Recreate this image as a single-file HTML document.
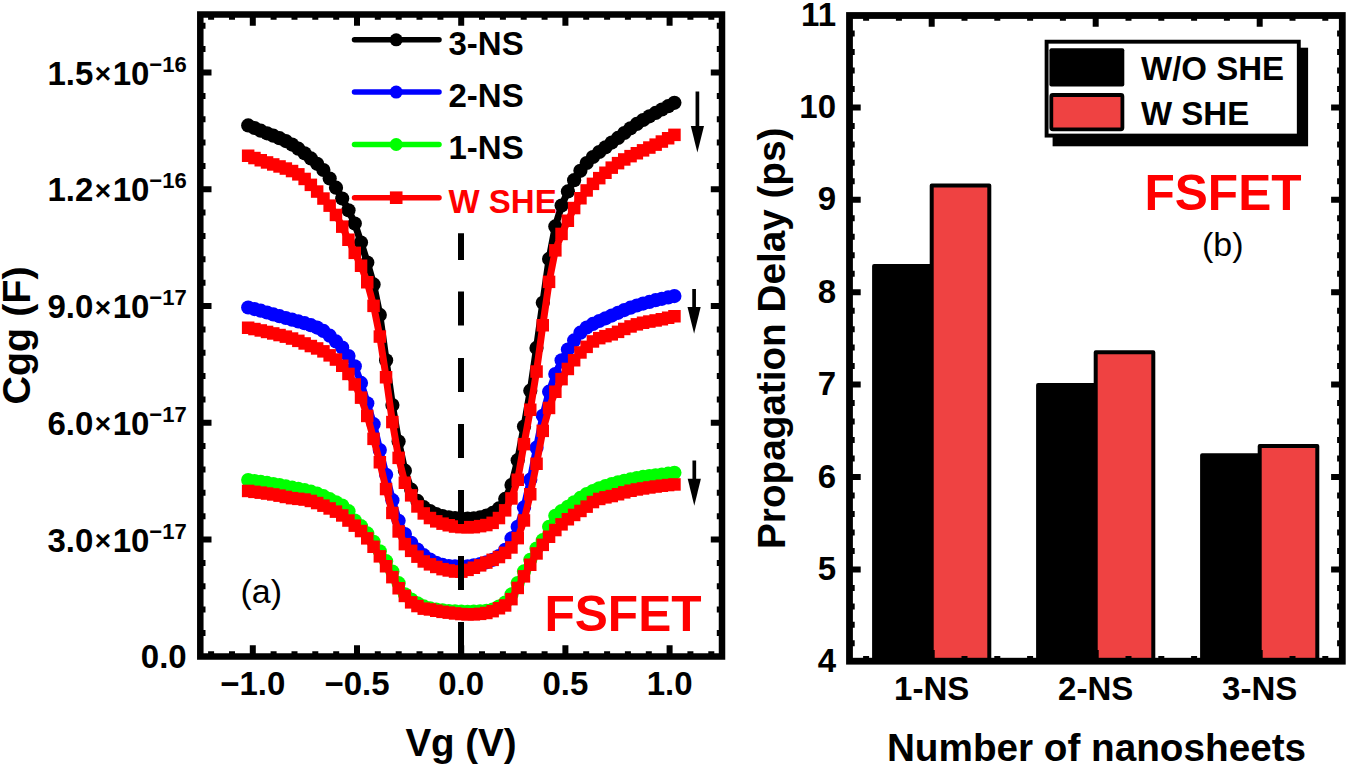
<!DOCTYPE html><html><head><meta charset="utf-8"><style>html,body{margin:0;padding:0;background:#fff;overflow:hidden}svg{display:block;font-family:"Liberation Sans",sans-serif}</style></head><body>
<svg width="1347" height="765" viewBox="0 0 1347 765">
<rect x="0" y="0" width="1347" height="765" fill="#fff"/>
<g>
<polyline points="248.2,125.4 254.5,128.0 260.7,130.7 267.0,133.3 273.3,135.7 279.5,138.2 285.8,141.1 292.1,144.6 298.3,148.7 304.6,153.3 310.9,158.4 317.1,163.8 323.4,170.0 329.7,178.5 336.0,187.7 342.2,198.5 348.5,210.3 354.8,223.6 361.0,242.5 367.3,262.5 373.6,284.4 379.8,314.9 386.1,360.3 392.4,405.0 398.6,441.6 404.9,470.7 411.2,489.7 417.4,500.9 423.7,507.2 430.0,511.1 436.2,514.0 442.5,516.0 448.8,517.3 455.0,518.2 461.3,518.6 467.6,518.7 473.8,518.4 480.1,517.4 486.4,515.6 492.7,512.9 498.9,508.4 505.2,498.9 511.5,485.0 517.7,460.2 524.0,426.5 530.3,390.7 536.5,347.9 542.8,302.8 549.1,258.9 555.3,226.4 561.6,205.6 567.9,191.4 574.1,180.2 580.4,170.8 586.7,163.0 592.9,157.0 599.2,152.0 605.5,147.3 611.7,142.6 618.0,137.9 624.3,133.0 630.5,128.3 636.8,123.9 643.1,120.0 649.4,116.3 655.6,112.9 661.9,109.5 668.2,106.2 674.4,102.8" fill="none" stroke="#000" stroke-width="7"/><g fill="#000"><circle cx="248.2" cy="125.4" r="7.1"/><circle cx="254.5" cy="128.0" r="7.1"/><circle cx="260.7" cy="130.7" r="7.1"/><circle cx="267.0" cy="133.3" r="7.1"/><circle cx="273.3" cy="135.7" r="7.1"/><circle cx="279.5" cy="138.2" r="7.1"/><circle cx="285.8" cy="141.1" r="7.1"/><circle cx="292.1" cy="144.6" r="7.1"/><circle cx="298.3" cy="148.7" r="7.1"/><circle cx="304.6" cy="153.3" r="7.1"/><circle cx="310.9" cy="158.4" r="7.1"/><circle cx="317.1" cy="163.8" r="7.1"/><circle cx="323.4" cy="170.0" r="7.1"/><circle cx="329.7" cy="178.5" r="7.1"/><circle cx="336.0" cy="187.7" r="7.1"/><circle cx="342.2" cy="198.5" r="7.1"/><circle cx="348.5" cy="210.3" r="7.1"/><circle cx="354.8" cy="223.6" r="7.1"/><circle cx="361.0" cy="242.5" r="7.1"/><circle cx="367.3" cy="262.5" r="7.1"/><circle cx="373.6" cy="284.4" r="7.1"/><circle cx="379.8" cy="314.9" r="7.1"/><circle cx="386.1" cy="360.3" r="7.1"/><circle cx="392.4" cy="405.0" r="7.1"/><circle cx="398.6" cy="441.6" r="7.1"/><circle cx="404.9" cy="470.7" r="7.1"/><circle cx="411.2" cy="489.7" r="7.1"/><circle cx="417.4" cy="500.9" r="7.1"/><circle cx="423.7" cy="507.2" r="7.1"/><circle cx="430.0" cy="511.1" r="7.1"/><circle cx="436.2" cy="514.0" r="7.1"/><circle cx="442.5" cy="516.0" r="7.1"/><circle cx="448.8" cy="517.3" r="7.1"/><circle cx="455.0" cy="518.2" r="7.1"/><circle cx="461.3" cy="518.6" r="7.1"/><circle cx="467.6" cy="518.7" r="7.1"/><circle cx="473.8" cy="518.4" r="7.1"/><circle cx="480.1" cy="517.4" r="7.1"/><circle cx="486.4" cy="515.6" r="7.1"/><circle cx="492.7" cy="512.9" r="7.1"/><circle cx="498.9" cy="508.4" r="7.1"/><circle cx="505.2" cy="498.9" r="7.1"/><circle cx="511.5" cy="485.0" r="7.1"/><circle cx="517.7" cy="460.2" r="7.1"/><circle cx="524.0" cy="426.5" r="7.1"/><circle cx="530.3" cy="390.7" r="7.1"/><circle cx="536.5" cy="347.9" r="7.1"/><circle cx="542.8" cy="302.8" r="7.1"/><circle cx="549.1" cy="258.9" r="7.1"/><circle cx="555.3" cy="226.4" r="7.1"/><circle cx="561.6" cy="205.6" r="7.1"/><circle cx="567.9" cy="191.4" r="7.1"/><circle cx="574.1" cy="180.2" r="7.1"/><circle cx="580.4" cy="170.8" r="7.1"/><circle cx="586.7" cy="163.0" r="7.1"/><circle cx="592.9" cy="157.0" r="7.1"/><circle cx="599.2" cy="152.0" r="7.1"/><circle cx="605.5" cy="147.3" r="7.1"/><circle cx="611.7" cy="142.6" r="7.1"/><circle cx="618.0" cy="137.9" r="7.1"/><circle cx="624.3" cy="133.0" r="7.1"/><circle cx="630.5" cy="128.3" r="7.1"/><circle cx="636.8" cy="123.9" r="7.1"/><circle cx="643.1" cy="120.0" r="7.1"/><circle cx="649.4" cy="116.3" r="7.1"/><circle cx="655.6" cy="112.9" r="7.1"/><circle cx="661.9" cy="109.5" r="7.1"/><circle cx="668.2" cy="106.2" r="7.1"/><circle cx="674.4" cy="102.8" r="7.1"/></g>
<polyline points="248.2,307.5 254.5,309.1 260.7,310.7 267.0,312.5 273.3,314.4 279.5,316.2 285.8,318.0 292.1,319.7 298.3,321.4 304.6,323.2 310.9,325.2 317.1,327.6 323.4,330.9 329.7,335.7 336.0,341.4 342.2,347.6 348.5,356.0 354.8,366.3 361.0,382.9 367.3,403.3 373.6,424.2 379.8,450.1 386.1,474.8 392.4,500.2 398.6,520.8 404.9,534.1 411.2,542.8 417.4,549.6 423.7,555.2 430.0,559.5 436.2,562.8 442.5,564.9 448.8,566.0 455.0,566.4 461.3,566.8 467.6,566.3 473.8,565.3 480.1,564.1 486.4,562.3 492.7,559.8 498.9,556.1 505.2,549.8 511.5,538.4 517.7,526.8 524.0,507.4 530.3,479.7 536.5,447.7 542.8,415.8 549.1,391.7 555.3,374.0 561.6,360.3 567.9,349.6 574.1,340.4 580.4,332.7 586.7,327.5 592.9,323.9 599.2,321.0 605.5,318.3 611.7,315.6 618.0,312.8 624.3,310.1 630.5,307.7 636.8,305.5 643.1,303.6 649.4,301.9 655.6,300.2 661.9,298.8 668.2,297.4 674.4,296.1" fill="none" stroke="#0000ff" stroke-width="7"/><g fill="#0000ff"><circle cx="248.2" cy="307.5" r="7.1"/><circle cx="254.5" cy="309.1" r="7.1"/><circle cx="260.7" cy="310.7" r="7.1"/><circle cx="267.0" cy="312.5" r="7.1"/><circle cx="273.3" cy="314.4" r="7.1"/><circle cx="279.5" cy="316.2" r="7.1"/><circle cx="285.8" cy="318.0" r="7.1"/><circle cx="292.1" cy="319.7" r="7.1"/><circle cx="298.3" cy="321.4" r="7.1"/><circle cx="304.6" cy="323.2" r="7.1"/><circle cx="310.9" cy="325.2" r="7.1"/><circle cx="317.1" cy="327.6" r="7.1"/><circle cx="323.4" cy="330.9" r="7.1"/><circle cx="329.7" cy="335.7" r="7.1"/><circle cx="336.0" cy="341.4" r="7.1"/><circle cx="342.2" cy="347.6" r="7.1"/><circle cx="348.5" cy="356.0" r="7.1"/><circle cx="354.8" cy="366.3" r="7.1"/><circle cx="361.0" cy="382.9" r="7.1"/><circle cx="367.3" cy="403.3" r="7.1"/><circle cx="373.6" cy="424.2" r="7.1"/><circle cx="379.8" cy="450.1" r="7.1"/><circle cx="386.1" cy="474.8" r="7.1"/><circle cx="392.4" cy="500.2" r="7.1"/><circle cx="398.6" cy="520.8" r="7.1"/><circle cx="404.9" cy="534.1" r="7.1"/><circle cx="411.2" cy="542.8" r="7.1"/><circle cx="417.4" cy="549.6" r="7.1"/><circle cx="423.7" cy="555.2" r="7.1"/><circle cx="430.0" cy="559.5" r="7.1"/><circle cx="436.2" cy="562.8" r="7.1"/><circle cx="442.5" cy="564.9" r="7.1"/><circle cx="448.8" cy="566.0" r="7.1"/><circle cx="455.0" cy="566.4" r="7.1"/><circle cx="461.3" cy="566.8" r="7.1"/><circle cx="467.6" cy="566.3" r="7.1"/><circle cx="473.8" cy="565.3" r="7.1"/><circle cx="480.1" cy="564.1" r="7.1"/><circle cx="486.4" cy="562.3" r="7.1"/><circle cx="492.7" cy="559.8" r="7.1"/><circle cx="498.9" cy="556.1" r="7.1"/><circle cx="505.2" cy="549.8" r="7.1"/><circle cx="511.5" cy="538.4" r="7.1"/><circle cx="517.7" cy="526.8" r="7.1"/><circle cx="524.0" cy="507.4" r="7.1"/><circle cx="530.3" cy="479.7" r="7.1"/><circle cx="536.5" cy="447.7" r="7.1"/><circle cx="542.8" cy="415.8" r="7.1"/><circle cx="549.1" cy="391.7" r="7.1"/><circle cx="555.3" cy="374.0" r="7.1"/><circle cx="561.6" cy="360.3" r="7.1"/><circle cx="567.9" cy="349.6" r="7.1"/><circle cx="574.1" cy="340.4" r="7.1"/><circle cx="580.4" cy="332.7" r="7.1"/><circle cx="586.7" cy="327.5" r="7.1"/><circle cx="592.9" cy="323.9" r="7.1"/><circle cx="599.2" cy="321.0" r="7.1"/><circle cx="605.5" cy="318.3" r="7.1"/><circle cx="611.7" cy="315.6" r="7.1"/><circle cx="618.0" cy="312.8" r="7.1"/><circle cx="624.3" cy="310.1" r="7.1"/><circle cx="630.5" cy="307.7" r="7.1"/><circle cx="636.8" cy="305.5" r="7.1"/><circle cx="643.1" cy="303.6" r="7.1"/><circle cx="649.4" cy="301.9" r="7.1"/><circle cx="655.6" cy="300.2" r="7.1"/><circle cx="661.9" cy="298.8" r="7.1"/><circle cx="668.2" cy="297.4" r="7.1"/><circle cx="674.4" cy="296.1" r="7.1"/></g>
<polyline points="248.2,480.0 254.5,481.0 260.7,481.9 267.0,482.9 273.3,484.0 279.5,485.1 285.8,486.4 292.1,487.7 298.3,488.9 304.6,490.2 310.9,491.7 317.1,493.7 323.4,496.2 329.7,499.2 336.0,502.3 342.2,505.5 348.5,511.2 354.8,520.5 361.0,526.2 367.3,533.4 373.6,541.8 379.8,551.3 386.1,561.2 392.4,571.6 398.6,583.2 404.9,594.3 411.2,599.6 417.4,603.3 423.7,606.4 430.0,608.3 436.2,609.5 442.5,610.3 448.8,611.0 455.0,611.4 461.3,611.7 467.6,611.8 473.8,611.7 480.1,611.4 486.4,610.8 492.7,609.5 498.9,606.6 505.2,602.5 511.5,594.4 517.7,583.0 524.0,571.4 530.3,559.8 536.5,548.6 542.8,540.2 549.1,526.8 555.3,515.8 561.6,511.0 567.9,506.8 574.1,502.3 580.4,497.9 586.7,494.1 592.9,491.0 599.2,488.3 605.5,486.0 611.7,484.0 618.0,482.3 624.3,480.8 630.5,479.4 636.8,478.1 643.1,476.9 649.4,476.1 655.6,475.3 661.9,474.5 668.2,473.7 674.4,472.8" fill="none" stroke="#00ff00" stroke-width="7"/><g fill="#00ff00"><circle cx="248.2" cy="480.0" r="7.1"/><circle cx="254.5" cy="481.0" r="7.1"/><circle cx="260.7" cy="481.9" r="7.1"/><circle cx="267.0" cy="482.9" r="7.1"/><circle cx="273.3" cy="484.0" r="7.1"/><circle cx="279.5" cy="485.1" r="7.1"/><circle cx="285.8" cy="486.4" r="7.1"/><circle cx="292.1" cy="487.7" r="7.1"/><circle cx="298.3" cy="488.9" r="7.1"/><circle cx="304.6" cy="490.2" r="7.1"/><circle cx="310.9" cy="491.7" r="7.1"/><circle cx="317.1" cy="493.7" r="7.1"/><circle cx="323.4" cy="496.2" r="7.1"/><circle cx="329.7" cy="499.2" r="7.1"/><circle cx="336.0" cy="502.3" r="7.1"/><circle cx="342.2" cy="505.5" r="7.1"/><circle cx="348.5" cy="511.2" r="7.1"/><circle cx="354.8" cy="520.5" r="7.1"/><circle cx="361.0" cy="526.2" r="7.1"/><circle cx="367.3" cy="533.4" r="7.1"/><circle cx="373.6" cy="541.8" r="7.1"/><circle cx="379.8" cy="551.3" r="7.1"/><circle cx="386.1" cy="561.2" r="7.1"/><circle cx="392.4" cy="571.6" r="7.1"/><circle cx="398.6" cy="583.2" r="7.1"/><circle cx="404.9" cy="594.3" r="7.1"/><circle cx="411.2" cy="599.6" r="7.1"/><circle cx="417.4" cy="603.3" r="7.1"/><circle cx="423.7" cy="606.4" r="7.1"/><circle cx="430.0" cy="608.3" r="7.1"/><circle cx="436.2" cy="609.5" r="7.1"/><circle cx="442.5" cy="610.3" r="7.1"/><circle cx="448.8" cy="611.0" r="7.1"/><circle cx="455.0" cy="611.4" r="7.1"/><circle cx="461.3" cy="611.7" r="7.1"/><circle cx="467.6" cy="611.8" r="7.1"/><circle cx="473.8" cy="611.7" r="7.1"/><circle cx="480.1" cy="611.4" r="7.1"/><circle cx="486.4" cy="610.8" r="7.1"/><circle cx="492.7" cy="609.5" r="7.1"/><circle cx="498.9" cy="606.6" r="7.1"/><circle cx="505.2" cy="602.5" r="7.1"/><circle cx="511.5" cy="594.4" r="7.1"/><circle cx="517.7" cy="583.0" r="7.1"/><circle cx="524.0" cy="571.4" r="7.1"/><circle cx="530.3" cy="559.8" r="7.1"/><circle cx="536.5" cy="548.6" r="7.1"/><circle cx="542.8" cy="540.2" r="7.1"/><circle cx="549.1" cy="526.8" r="7.1"/><circle cx="555.3" cy="515.8" r="7.1"/><circle cx="561.6" cy="511.0" r="7.1"/><circle cx="567.9" cy="506.8" r="7.1"/><circle cx="574.1" cy="502.3" r="7.1"/><circle cx="580.4" cy="497.9" r="7.1"/><circle cx="586.7" cy="494.1" r="7.1"/><circle cx="592.9" cy="491.0" r="7.1"/><circle cx="599.2" cy="488.3" r="7.1"/><circle cx="605.5" cy="486.0" r="7.1"/><circle cx="611.7" cy="484.0" r="7.1"/><circle cx="618.0" cy="482.3" r="7.1"/><circle cx="624.3" cy="480.8" r="7.1"/><circle cx="630.5" cy="479.4" r="7.1"/><circle cx="636.8" cy="478.1" r="7.1"/><circle cx="643.1" cy="476.9" r="7.1"/><circle cx="649.4" cy="476.1" r="7.1"/><circle cx="655.6" cy="475.3" r="7.1"/><circle cx="661.9" cy="474.5" r="7.1"/><circle cx="668.2" cy="473.7" r="7.1"/><circle cx="674.4" cy="472.8" r="7.1"/></g>
<polyline points="248.2,155.8 254.5,158.0 260.7,160.3 267.0,162.5 273.3,164.5 279.5,166.5 285.8,168.6 292.1,171.0 298.3,174.3 304.6,178.9 310.9,184.9 317.1,191.6 323.4,198.5 329.7,205.6 336.0,214.9 342.2,226.7 348.5,239.8 354.8,252.8 361.0,265.7 367.3,282.3 373.6,305.8 379.8,336.5 386.1,377.3 392.4,422.1 398.6,457.8 404.9,482.8 411.2,495.4 417.4,506.5 423.7,513.5 430.0,518.0 436.2,521.4 442.5,523.7 448.8,525.3 455.0,526.6 461.3,527.1 467.6,527.3 473.8,527.2 480.1,526.1 486.4,525.1 492.7,522.8 498.9,518.0 505.2,510.4 511.5,498.5 517.7,479.7 524.0,444.2 530.3,409.8 536.5,371.5 542.8,325.2 549.1,281.9 555.3,250.4 561.6,234.0 567.9,220.7 574.1,208.0 580.4,198.2 586.7,190.4 592.9,183.9 599.2,178.2 605.5,172.7 611.7,167.6 618.0,163.2 624.3,159.4 630.5,156.2 636.8,153.2 643.1,150.4 649.4,147.5 655.6,144.6 661.9,141.5 668.2,138.3 674.4,134.9" fill="none" stroke="#ff0000" stroke-width="7"/><g fill="#ff0000"><rect x="241.9" y="149.5" width="12.5" height="12.5"/><rect x="248.2" y="151.8" width="12.5" height="12.5"/><rect x="254.5" y="154.0" width="12.5" height="12.5"/><rect x="260.8" y="156.2" width="12.5" height="12.5"/><rect x="267.0" y="158.2" width="12.5" height="12.5"/><rect x="273.3" y="160.2" width="12.5" height="12.5"/><rect x="279.6" y="162.3" width="12.5" height="12.5"/><rect x="285.8" y="164.8" width="12.5" height="12.5"/><rect x="292.1" y="168.1" width="12.5" height="12.5"/><rect x="298.4" y="172.7" width="12.5" height="12.5"/><rect x="304.6" y="178.6" width="12.5" height="12.5"/><rect x="310.9" y="185.3" width="12.5" height="12.5"/><rect x="317.2" y="192.3" width="12.5" height="12.5"/><rect x="323.4" y="199.4" width="12.5" height="12.5"/><rect x="329.7" y="208.7" width="12.5" height="12.5"/><rect x="336.0" y="220.4" width="12.5" height="12.5"/><rect x="342.2" y="233.5" width="12.5" height="12.5"/><rect x="348.5" y="246.6" width="12.5" height="12.5"/><rect x="354.8" y="259.5" width="12.5" height="12.5"/><rect x="361.0" y="276.0" width="12.5" height="12.5"/><rect x="367.3" y="299.6" width="12.5" height="12.5"/><rect x="373.6" y="330.3" width="12.5" height="12.5"/><rect x="379.8" y="371.0" width="12.5" height="12.5"/><rect x="386.1" y="415.8" width="12.5" height="12.5"/><rect x="392.4" y="451.6" width="12.5" height="12.5"/><rect x="398.6" y="476.5" width="12.5" height="12.5"/><rect x="404.9" y="489.1" width="12.5" height="12.5"/><rect x="411.2" y="500.2" width="12.5" height="12.5"/><rect x="417.5" y="507.2" width="12.5" height="12.5"/><rect x="423.7" y="511.8" width="12.5" height="12.5"/><rect x="430.0" y="515.1" width="12.5" height="12.5"/><rect x="436.3" y="517.4" width="12.5" height="12.5"/><rect x="442.5" y="519.0" width="12.5" height="12.5"/><rect x="448.8" y="520.3" width="12.5" height="12.5"/><rect x="455.1" y="520.9" width="12.5" height="12.5"/><rect x="461.3" y="521.0" width="12.5" height="12.5"/><rect x="467.6" y="520.9" width="12.5" height="12.5"/><rect x="473.9" y="519.9" width="12.5" height="12.5"/><rect x="480.1" y="518.8" width="12.5" height="12.5"/><rect x="486.4" y="516.6" width="12.5" height="12.5"/><rect x="492.7" y="511.8" width="12.5" height="12.5"/><rect x="498.9" y="504.1" width="12.5" height="12.5"/><rect x="505.2" y="492.2" width="12.5" height="12.5"/><rect x="511.5" y="473.5" width="12.5" height="12.5"/><rect x="517.7" y="437.9" width="12.5" height="12.5"/><rect x="524.0" y="403.5" width="12.5" height="12.5"/><rect x="530.3" y="365.3" width="12.5" height="12.5"/><rect x="536.5" y="319.0" width="12.5" height="12.5"/><rect x="542.8" y="275.6" width="12.5" height="12.5"/><rect x="549.1" y="244.1" width="12.5" height="12.5"/><rect x="555.3" y="227.7" width="12.5" height="12.5"/><rect x="561.6" y="214.5" width="12.5" height="12.5"/><rect x="567.9" y="201.8" width="12.5" height="12.5"/><rect x="574.2" y="192.0" width="12.5" height="12.5"/><rect x="580.4" y="184.2" width="12.5" height="12.5"/><rect x="586.7" y="177.6" width="12.5" height="12.5"/><rect x="593.0" y="171.9" width="12.5" height="12.5"/><rect x="599.2" y="166.5" width="12.5" height="12.5"/><rect x="605.5" y="161.4" width="12.5" height="12.5"/><rect x="611.8" y="156.9" width="12.5" height="12.5"/><rect x="618.0" y="153.2" width="12.5" height="12.5"/><rect x="624.3" y="149.9" width="12.5" height="12.5"/><rect x="630.6" y="147.0" width="12.5" height="12.5"/><rect x="636.8" y="144.1" width="12.5" height="12.5"/><rect x="643.1" y="141.3" width="12.5" height="12.5"/><rect x="649.4" y="138.4" width="12.5" height="12.5"/><rect x="655.6" y="135.3" width="12.5" height="12.5"/><rect x="661.9" y="132.0" width="12.5" height="12.5"/><rect x="668.2" y="128.6" width="12.5" height="12.5"/></g>
<polyline points="248.2,327.7 254.5,329.1 260.7,330.5 267.0,331.9 273.3,333.5 279.5,335.1 285.8,336.7 292.1,338.5 298.3,340.8 304.6,343.5 310.9,346.1 317.1,348.4 323.4,351.4 329.7,355.4 336.0,359.5 342.2,365.7 348.5,373.9 354.8,384.5 361.0,397.6 367.3,415.9 373.6,438.8 379.8,462.3 386.1,489.0 392.4,513.0 398.6,531.5 404.9,544.1 411.2,550.9 417.4,556.6 423.7,561.5 430.0,564.4 436.2,567.0 442.5,569.2 448.8,570.4 455.0,571.5 461.3,571.6 467.6,569.9 473.8,567.7 480.1,565.3 486.4,562.5 492.7,559.9 498.9,557.1 505.2,552.9 511.5,547.4 517.7,538.2 524.0,520.4 530.3,494.2 536.5,463.8 542.8,430.9 549.1,407.9 555.3,391.8 561.6,379.1 567.9,369.0 574.1,360.2 580.4,352.5 586.7,346.9 592.9,341.5 599.2,338.1 605.5,336.2 611.7,334.3 618.0,331.8 624.3,329.0 630.5,326.4 636.8,324.3 643.1,322.7 649.4,321.6 655.6,320.5 661.9,319.2 668.2,317.8 674.4,316.3" fill="none" stroke="#ff0000" stroke-width="7"/><g fill="#ff0000"><rect x="241.9" y="321.5" width="12.5" height="12.5"/><rect x="248.2" y="322.8" width="12.5" height="12.5"/><rect x="254.5" y="324.2" width="12.5" height="12.5"/><rect x="260.8" y="325.7" width="12.5" height="12.5"/><rect x="267.0" y="327.2" width="12.5" height="12.5"/><rect x="273.3" y="328.8" width="12.5" height="12.5"/><rect x="279.6" y="330.4" width="12.5" height="12.5"/><rect x="285.8" y="332.3" width="12.5" height="12.5"/><rect x="292.1" y="334.6" width="12.5" height="12.5"/><rect x="298.4" y="337.2" width="12.5" height="12.5"/><rect x="304.6" y="339.8" width="12.5" height="12.5"/><rect x="310.9" y="342.2" width="12.5" height="12.5"/><rect x="317.2" y="345.1" width="12.5" height="12.5"/><rect x="323.4" y="349.1" width="12.5" height="12.5"/><rect x="329.7" y="353.3" width="12.5" height="12.5"/><rect x="336.0" y="359.5" width="12.5" height="12.5"/><rect x="342.2" y="367.7" width="12.5" height="12.5"/><rect x="348.5" y="378.2" width="12.5" height="12.5"/><rect x="354.8" y="391.4" width="12.5" height="12.5"/><rect x="361.0" y="409.7" width="12.5" height="12.5"/><rect x="367.3" y="432.6" width="12.5" height="12.5"/><rect x="373.6" y="456.0" width="12.5" height="12.5"/><rect x="379.8" y="482.8" width="12.5" height="12.5"/><rect x="386.1" y="506.7" width="12.5" height="12.5"/><rect x="392.4" y="525.2" width="12.5" height="12.5"/><rect x="398.6" y="537.9" width="12.5" height="12.5"/><rect x="404.9" y="544.6" width="12.5" height="12.5"/><rect x="411.2" y="550.4" width="12.5" height="12.5"/><rect x="417.5" y="555.2" width="12.5" height="12.5"/><rect x="423.7" y="558.1" width="12.5" height="12.5"/><rect x="430.0" y="560.7" width="12.5" height="12.5"/><rect x="436.3" y="562.9" width="12.5" height="12.5"/><rect x="442.5" y="564.2" width="12.5" height="12.5"/><rect x="448.8" y="565.3" width="12.5" height="12.5"/><rect x="455.1" y="565.4" width="12.5" height="12.5"/><rect x="461.3" y="563.6" width="12.5" height="12.5"/><rect x="467.6" y="561.5" width="12.5" height="12.5"/><rect x="473.9" y="559.1" width="12.5" height="12.5"/><rect x="480.1" y="556.3" width="12.5" height="12.5"/><rect x="486.4" y="553.6" width="12.5" height="12.5"/><rect x="492.7" y="550.8" width="12.5" height="12.5"/><rect x="498.9" y="546.6" width="12.5" height="12.5"/><rect x="505.2" y="541.2" width="12.5" height="12.5"/><rect x="511.5" y="531.9" width="12.5" height="12.5"/><rect x="517.7" y="514.2" width="12.5" height="12.5"/><rect x="524.0" y="488.0" width="12.5" height="12.5"/><rect x="530.3" y="457.5" width="12.5" height="12.5"/><rect x="536.5" y="424.6" width="12.5" height="12.5"/><rect x="542.8" y="401.7" width="12.5" height="12.5"/><rect x="549.1" y="385.5" width="12.5" height="12.5"/><rect x="555.3" y="372.9" width="12.5" height="12.5"/><rect x="561.6" y="362.7" width="12.5" height="12.5"/><rect x="567.9" y="354.0" width="12.5" height="12.5"/><rect x="574.2" y="346.2" width="12.5" height="12.5"/><rect x="580.4" y="340.6" width="12.5" height="12.5"/><rect x="586.7" y="335.2" width="12.5" height="12.5"/><rect x="593.0" y="331.9" width="12.5" height="12.5"/><rect x="599.2" y="329.9" width="12.5" height="12.5"/><rect x="605.5" y="328.1" width="12.5" height="12.5"/><rect x="611.8" y="325.6" width="12.5" height="12.5"/><rect x="618.0" y="322.7" width="12.5" height="12.5"/><rect x="624.3" y="320.2" width="12.5" height="12.5"/><rect x="630.6" y="318.1" width="12.5" height="12.5"/><rect x="636.8" y="316.5" width="12.5" height="12.5"/><rect x="643.1" y="315.3" width="12.5" height="12.5"/><rect x="649.4" y="314.2" width="12.5" height="12.5"/><rect x="655.6" y="313.0" width="12.5" height="12.5"/><rect x="661.9" y="311.5" width="12.5" height="12.5"/><rect x="668.2" y="310.0" width="12.5" height="12.5"/></g>
<polyline points="248.2,490.9 254.5,491.8 260.7,492.7 267.0,493.5 273.3,494.5 279.5,495.6 285.8,496.9 292.1,498.1 298.3,498.9 304.6,499.5 310.9,500.9 317.1,503.1 323.4,505.6 329.7,508.4 336.0,511.6 342.2,515.4 348.5,520.5 354.8,525.7 361.0,531.1 367.3,538.4 373.6,546.8 379.8,556.3 386.1,566.3 392.4,577.2 398.6,588.3 404.9,596.0 411.2,602.4 417.4,606.1 423.7,608.6 430.0,609.5 436.2,610.8 442.5,611.8 448.8,612.6 455.0,613.4 461.3,614.1 467.6,614.3 473.8,614.3 480.1,613.9 486.4,612.9 492.7,611.2 498.9,608.2 505.2,605.4 511.5,599.2 517.7,588.0 524.0,576.4 530.3,564.7 536.5,553.5 542.8,544.9 549.1,536.8 555.3,530.1 561.6,524.4 567.9,519.3 574.1,514.9 580.4,511.0 586.7,506.6 592.9,502.0 599.2,498.9 605.5,497.3 611.7,496.0 618.0,494.3 624.3,492.4 630.5,490.7 636.8,489.5 643.1,488.4 649.4,487.5 655.6,486.6 661.9,485.8 668.2,485.1 674.4,484.4" fill="none" stroke="#ff0000" stroke-width="7"/><g fill="#ff0000"><rect x="241.9" y="484.7" width="12.5" height="12.5"/><rect x="248.2" y="485.6" width="12.5" height="12.5"/><rect x="254.5" y="486.4" width="12.5" height="12.5"/><rect x="260.8" y="487.3" width="12.5" height="12.5"/><rect x="267.0" y="488.2" width="12.5" height="12.5"/><rect x="273.3" y="489.4" width="12.5" height="12.5"/><rect x="279.6" y="490.7" width="12.5" height="12.5"/><rect x="285.8" y="491.9" width="12.5" height="12.5"/><rect x="292.1" y="492.6" width="12.5" height="12.5"/><rect x="298.4" y="493.3" width="12.5" height="12.5"/><rect x="304.6" y="494.7" width="12.5" height="12.5"/><rect x="310.9" y="496.8" width="12.5" height="12.5"/><rect x="317.2" y="499.4" width="12.5" height="12.5"/><rect x="323.4" y="502.2" width="12.5" height="12.5"/><rect x="329.7" y="505.4" width="12.5" height="12.5"/><rect x="336.0" y="509.2" width="12.5" height="12.5"/><rect x="342.2" y="514.3" width="12.5" height="12.5"/><rect x="348.5" y="519.4" width="12.5" height="12.5"/><rect x="354.8" y="524.8" width="12.5" height="12.5"/><rect x="361.0" y="532.1" width="12.5" height="12.5"/><rect x="367.3" y="540.5" width="12.5" height="12.5"/><rect x="373.6" y="550.1" width="12.5" height="12.5"/><rect x="379.8" y="560.0" width="12.5" height="12.5"/><rect x="386.1" y="570.9" width="12.5" height="12.5"/><rect x="392.4" y="582.0" width="12.5" height="12.5"/><rect x="398.6" y="589.7" width="12.5" height="12.5"/><rect x="404.9" y="596.1" width="12.5" height="12.5"/><rect x="411.2" y="599.8" width="12.5" height="12.5"/><rect x="417.5" y="602.4" width="12.5" height="12.5"/><rect x="423.7" y="603.2" width="12.5" height="12.5"/><rect x="430.0" y="604.5" width="12.5" height="12.5"/><rect x="436.3" y="605.6" width="12.5" height="12.5"/><rect x="442.5" y="606.4" width="12.5" height="12.5"/><rect x="448.8" y="607.2" width="12.5" height="12.5"/><rect x="455.1" y="607.8" width="12.5" height="12.5"/><rect x="461.3" y="608.1" width="12.5" height="12.5"/><rect x="467.6" y="608.1" width="12.5" height="12.5"/><rect x="473.9" y="607.6" width="12.5" height="12.5"/><rect x="480.1" y="606.7" width="12.5" height="12.5"/><rect x="486.4" y="604.9" width="12.5" height="12.5"/><rect x="492.7" y="602.0" width="12.5" height="12.5"/><rect x="498.9" y="599.2" width="12.5" height="12.5"/><rect x="505.2" y="592.9" width="12.5" height="12.5"/><rect x="511.5" y="581.7" width="12.5" height="12.5"/><rect x="517.7" y="570.1" width="12.5" height="12.5"/><rect x="524.0" y="558.5" width="12.5" height="12.5"/><rect x="530.3" y="547.2" width="12.5" height="12.5"/><rect x="536.5" y="538.6" width="12.5" height="12.5"/><rect x="542.8" y="530.5" width="12.5" height="12.5"/><rect x="549.1" y="523.8" width="12.5" height="12.5"/><rect x="555.3" y="518.1" width="12.5" height="12.5"/><rect x="561.6" y="513.0" width="12.5" height="12.5"/><rect x="567.9" y="508.7" width="12.5" height="12.5"/><rect x="574.2" y="504.7" width="12.5" height="12.5"/><rect x="580.4" y="500.4" width="12.5" height="12.5"/><rect x="586.7" y="495.8" width="12.5" height="12.5"/><rect x="593.0" y="492.7" width="12.5" height="12.5"/><rect x="599.2" y="491.1" width="12.5" height="12.5"/><rect x="605.5" y="489.8" width="12.5" height="12.5"/><rect x="611.8" y="488.0" width="12.5" height="12.5"/><rect x="618.0" y="486.1" width="12.5" height="12.5"/><rect x="624.3" y="484.5" width="12.5" height="12.5"/><rect x="630.6" y="483.2" width="12.5" height="12.5"/><rect x="636.8" y="482.2" width="12.5" height="12.5"/><rect x="643.1" y="481.2" width="12.5" height="12.5"/><rect x="649.4" y="480.3" width="12.5" height="12.5"/><rect x="655.6" y="479.5" width="12.5" height="12.5"/><rect x="661.9" y="478.8" width="12.5" height="12.5"/><rect x="668.2" y="478.2" width="12.5" height="12.5"/></g>
</g>
<line x1="461" y1="233.3" x2="461" y2="653" stroke="#000" stroke-width="6" stroke-dasharray="26.7 31.4 34 32.7 34 32 34 32 34 32 34 32 34 32" />
<path d="M211.1,656.5v-5.2M211.1,14.5v5.2M232.0,656.5v-5.2M232.0,14.5v5.2M252.8,656.5v-11.2M252.8,14.5v11.2M273.6,656.5v-5.2M273.6,14.5v5.2M294.5,656.5v-5.2M294.5,14.5v5.2M315.3,656.5v-5.2M315.3,14.5v5.2M336.2,656.5v-5.2M336.2,14.5v5.2M357.0,656.5v-11.2M357.0,14.5v11.2M377.8,656.5v-5.2M377.8,14.5v5.2M398.7,656.5v-5.2M398.7,14.5v5.2M419.5,656.5v-5.2M419.5,14.5v5.2M440.4,656.5v-5.2M440.4,14.5v5.2M461.2,656.5v-11.2M461.2,14.5v11.2M482.0,656.5v-5.2M482.0,14.5v5.2M502.9,656.5v-5.2M502.9,14.5v5.2M523.7,656.5v-5.2M523.7,14.5v5.2M544.6,656.5v-5.2M544.6,14.5v5.2M565.4,656.5v-11.2M565.4,14.5v11.2M586.2,656.5v-5.2M586.2,14.5v5.2M607.1,656.5v-5.2M607.1,14.5v5.2M627.9,656.5v-5.2M627.9,14.5v5.2M648.8,656.5v-5.2M648.8,14.5v5.2M669.6,656.5v-11.2M669.6,14.5v11.2M690.4,656.5v-5.2M690.4,14.5v5.2M711.3,656.5v-5.2M711.3,14.5v5.2M200.3,632.9h5.2M722.0,632.9h-5.2M200.3,609.6h5.2M722.0,609.6h-5.2M200.3,586.2h5.2M722.0,586.2h-5.2M200.3,562.9h5.2M722.0,562.9h-5.2M200.3,539.5h11.2M722.0,539.5h-11.2M200.3,516.2h5.2M722.0,516.2h-5.2M200.3,492.8h5.2M722.0,492.8h-5.2M200.3,469.5h5.2M722.0,469.5h-5.2M200.3,446.1h5.2M722.0,446.1h-5.2M200.3,422.8h11.2M722.0,422.8h-11.2M200.3,399.4h5.2M722.0,399.4h-5.2M200.3,376.1h5.2M722.0,376.1h-5.2M200.3,352.7h5.2M722.0,352.7h-5.2M200.3,329.4h5.2M722.0,329.4h-5.2M200.3,306.0h11.2M722.0,306.0h-11.2M200.3,282.7h5.2M722.0,282.7h-5.2M200.3,259.3h5.2M722.0,259.3h-5.2M200.3,236.0h5.2M722.0,236.0h-5.2M200.3,212.6h5.2M722.0,212.6h-5.2M200.3,189.3h11.2M722.0,189.3h-11.2M200.3,165.9h5.2M722.0,165.9h-5.2M200.3,142.6h5.2M722.0,142.6h-5.2M200.3,119.2h5.2M722.0,119.2h-5.2M200.3,95.9h5.2M722.0,95.9h-5.2M200.3,72.5h11.2M722.0,72.5h-11.2M200.3,49.1h5.2M722.0,49.1h-5.2M200.3,25.8h5.2M722.0,25.8h-5.2" stroke="#000" stroke-width="6" fill="none"/>
<rect x="200.3" y="14.5" width="521.7" height="642.0" fill="none" stroke="#000" stroke-width="6.5"/>
<text x="186.7" y="668.3" font-size="33" font-weight="bold" text-anchor="end">0.0</text>
<text x="186.7" y="551.5" font-size="33" font-weight="bold" text-anchor="end">3.0<tspan font-size="28" dx="1.5" dy="-1.5">×</tspan><tspan dx="1.5" dy="1.5">10</tspan><tspan font-size="22" dy="-13">−17</tspan></text>
<text x="186.7" y="434.8" font-size="33" font-weight="bold" text-anchor="end">6.0<tspan font-size="28" dx="1.5" dy="-1.5">×</tspan><tspan dx="1.5" dy="1.5">10</tspan><tspan font-size="22" dy="-13">−17</tspan></text>
<text x="186.7" y="318.0" font-size="33" font-weight="bold" text-anchor="end">9.0<tspan font-size="28" dx="1.5" dy="-1.5">×</tspan><tspan dx="1.5" dy="1.5">10</tspan><tspan font-size="22" dy="-13">−17</tspan></text>
<text x="186.7" y="201.3" font-size="33" font-weight="bold" text-anchor="end">1.2<tspan font-size="28" dx="1.5" dy="-1.5">×</tspan><tspan dx="1.5" dy="1.5">10</tspan><tspan font-size="22" dy="-13">−16</tspan></text>
<text x="186.7" y="84.5" font-size="33" font-weight="bold" text-anchor="end">1.5<tspan font-size="28" dx="1.5" dy="-1.5">×</tspan><tspan dx="1.5" dy="1.5">10</tspan><tspan font-size="22" dy="-13">−16</tspan></text>
<text x="252.8" y="694.5" font-size="33" font-weight="bold" text-anchor="middle">−1.0</text>
<text x="357.0" y="694.5" font-size="33" font-weight="bold" text-anchor="middle">−0.5</text>
<text x="461.2" y="694.5" font-size="33" font-weight="bold" text-anchor="middle">0.0</text>
<text x="565.4" y="694.5" font-size="33" font-weight="bold" text-anchor="middle">0.5</text>
<text x="669.6" y="694.5" font-size="33" font-weight="bold" text-anchor="middle">1.0</text>
<text x="461" y="755.5" font-size="38.5" font-weight="bold" text-anchor="middle">Vg (V)</text>
<text transform="translate(29.6,335.5) rotate(-90)" font-size="39.5" font-weight="bold" text-anchor="middle">Cgg (F)</text>
<line x1="354.5" y1="39.8" x2="439" y2="39.8" stroke="#000" stroke-width="5.5" stroke-linecap="round"/>
<circle cx="396.2" cy="39.8" r="6.5" fill="#000"/>
<text x="448.5" y="54.6" font-size="33" font-weight="bold" fill="#000">3-NS</text>
<line x1="354.5" y1="92.1" x2="439" y2="92.1" stroke="#0000ff" stroke-width="5.5" stroke-linecap="round"/>
<circle cx="396.2" cy="92.1" r="6.5" fill="#0000ff"/>
<text x="448.5" y="106.9" font-size="33" font-weight="bold" fill="#000">2-NS</text>
<line x1="354.5" y1="144.5" x2="439" y2="144.5" stroke="#00ff00" stroke-width="5.5" stroke-linecap="round"/>
<circle cx="396.2" cy="144.5" r="6.5" fill="#00ff00"/>
<text x="448.5" y="159.3" font-size="33" font-weight="bold" fill="#000">1-NS</text>
<line x1="354.5" y1="197.7" x2="439" y2="197.7" stroke="#ff0000" stroke-width="5.5" stroke-linecap="round"/>
<rect x="389.9" y="191.39999999999998" width="12.6" height="12.6" fill="#ff0000"/>
<text x="448.5" y="212.5" font-size="33" font-weight="bold" fill="#ff0000">W SHE</text>
<line x1="697.4" y1="91.5" x2="697.4" y2="128" stroke="#000" stroke-width="3.7"/>
<path d="M690.8,126L704.0,126L697.4,152.6Z" fill="#000"/>
<line x1="694.1" y1="289" x2="694.1" y2="309" stroke="#000" stroke-width="3.7"/>
<path d="M687.5,307L700.7,307L694.1,333.7Z" fill="#000"/>
<line x1="694.3" y1="460.5" x2="694.3" y2="480.8" stroke="#000" stroke-width="3.7"/>
<path d="M687.7,478.8L700.9,478.8L694.3,505.8Z" fill="#000"/>
<text x="544.5" y="631" font-size="49.6" font-weight="bold" fill="#ff0000">FSFET</text>
<text x="240.5" y="603" font-size="34">(a)</text>
<rect x="874.1" y="265.9" width="57.6" height="395.30000000000007" fill="#000" stroke="#000" stroke-width="4" stroke-linejoin="round"/>
<rect x="931.7" y="185.4" width="57.6" height="475.80000000000007" fill="#ef4242" stroke="#000" stroke-width="4" stroke-linejoin="round"/>
<rect x="1038.1000000000001" y="385.0" width="57.6" height="276.20000000000005" fill="#000" stroke="#000" stroke-width="4" stroke-linejoin="round"/>
<rect x="1095.7" y="352.2" width="57.6" height="309.00000000000006" fill="#ef4242" stroke="#000" stroke-width="4" stroke-linejoin="round"/>
<rect x="1202.1000000000001" y="455.3" width="57.6" height="205.90000000000003" fill="#000" stroke="#000" stroke-width="4" stroke-linejoin="round"/>
<rect x="1259.7" y="445.9" width="57.6" height="215.30000000000007" fill="#ef4242" stroke="#000" stroke-width="4" stroke-linejoin="round"/>
<path d="M866.1,661.2v-5.2M866.1,15.5v5.2M898.9,661.2v-5.2M898.9,15.5v5.2M931.7,661.2v-11.2M931.7,15.5v11.2M964.5,661.2v-5.2M964.5,15.5v5.2M997.3,661.2v-5.2M997.3,15.5v5.2M1030.1,661.2v-5.2M1030.1,15.5v5.2M1062.9,661.2v-5.2M1062.9,15.5v5.2M1095.7,661.2v-11.2M1095.7,15.5v11.2M1128.5,661.2v-5.2M1128.5,15.5v5.2M1161.3,661.2v-5.2M1161.3,15.5v5.2M1194.1,661.2v-5.2M1194.1,15.5v5.2M1226.9,661.2v-5.2M1226.9,15.5v5.2M1259.7,661.2v-11.2M1259.7,15.5v11.2M1292.5,661.2v-5.2M1292.5,15.5v5.2M1325.3,661.2v-5.2M1325.3,15.5v5.2M849.5,643.3h5.2M1342.3,643.3h-5.2M849.5,624.8h5.2M1342.3,624.8h-5.2M849.5,606.4h5.2M1342.3,606.4h-5.2M849.5,587.9h5.2M1342.3,587.9h-5.2M849.5,569.4h11.2M1342.3,569.4h-11.2M849.5,550.9h5.2M1342.3,550.9h-5.2M849.5,532.4h5.2M1342.3,532.4h-5.2M849.5,514.0h5.2M1342.3,514.0h-5.2M849.5,495.5h5.2M1342.3,495.5h-5.2M849.5,477.0h11.2M1342.3,477.0h-11.2M849.5,458.5h5.2M1342.3,458.5h-5.2M849.5,440.0h5.2M1342.3,440.0h-5.2M849.5,421.6h5.2M1342.3,421.6h-5.2M849.5,403.1h5.2M1342.3,403.1h-5.2M849.5,384.6h11.2M1342.3,384.6h-11.2M849.5,366.1h5.2M1342.3,366.1h-5.2M849.5,347.6h5.2M1342.3,347.6h-5.2M849.5,329.2h5.2M1342.3,329.2h-5.2M849.5,310.7h5.2M1342.3,310.7h-5.2M849.5,292.2h11.2M1342.3,292.2h-11.2M849.5,273.7h5.2M1342.3,273.7h-5.2M849.5,255.2h5.2M1342.3,255.2h-5.2M849.5,236.8h5.2M1342.3,236.8h-5.2M849.5,218.3h5.2M1342.3,218.3h-5.2M849.5,199.8h11.2M1342.3,199.8h-11.2M849.5,181.3h5.2M1342.3,181.3h-5.2M849.5,162.8h5.2M1342.3,162.8h-5.2M849.5,144.4h5.2M1342.3,144.4h-5.2M849.5,125.9h5.2M1342.3,125.9h-5.2M849.5,107.4h11.2M1342.3,107.4h-11.2M849.5,88.9h5.2M1342.3,88.9h-5.2M849.5,70.4h5.2M1342.3,70.4h-5.2M849.5,52.0h5.2M1342.3,52.0h-5.2M849.5,33.5h5.2M1342.3,33.5h-5.2" stroke="#000" stroke-width="6" fill="none"/>
<rect x="849.5" y="15.5" width="492.79999999999995" height="645.7" fill="none" stroke="#000" stroke-width="6.8"/>
<text x="836" y="672.3" font-size="33" font-weight="bold" text-anchor="end">4</text>
<text x="836" y="579.9" font-size="33" font-weight="bold" text-anchor="end">5</text>
<text x="836" y="487.5" font-size="33" font-weight="bold" text-anchor="end">6</text>
<text x="836" y="395.1" font-size="33" font-weight="bold" text-anchor="end">7</text>
<text x="836" y="302.7" font-size="33" font-weight="bold" text-anchor="end">8</text>
<text x="836" y="210.3" font-size="33" font-weight="bold" text-anchor="end">9</text>
<text x="836" y="117.9" font-size="33" font-weight="bold" text-anchor="end">10</text>
<text x="836" y="25.5" font-size="33" font-weight="bold" text-anchor="end">11</text>
<text x="931.7" y="699.5" font-size="33" font-weight="bold" text-anchor="middle">1-NS</text>
<text x="1095.7" y="699.5" font-size="33" font-weight="bold" text-anchor="middle">2-NS</text>
<text x="1259.7" y="699.5" font-size="33" font-weight="bold" text-anchor="middle">3-NS</text>
<text x="1096.5" y="761" font-size="38.7" font-weight="bold" text-anchor="middle">Number of nanosheets</text>
<text transform="translate(785.3,338.3) rotate(-90)" font-size="38.7" font-weight="bold" text-anchor="middle">Propagation Delay (ps)</text>
<rect x="1052.6" y="47.7" width="255.5" height="98.6" fill="#000"/>
<rect x="1046.6" y="41.7" width="252.2" height="93.9" fill="#fff" stroke="#000" stroke-width="3.9"/>
<rect x="1049.4" y="48.3" width="74.9" height="38.1" rx="2" fill="#000"/>
<rect x="1051.3" y="95" width="71.1" height="34.3" rx="1.5" fill="#ef4242" stroke="#000" stroke-width="3.8"/>
<text x="1141" y="79.5" font-size="33" font-weight="bold">W/O SHE</text>
<text x="1141" y="124.5" font-size="33" font-weight="bold">W SHE</text>
<text x="1144.5" y="210" font-size="49.6" font-weight="bold" fill="#ff0000">FSFET</text>
<text x="1202" y="255.5" font-size="34">(b)</text>
</svg></body></html>
